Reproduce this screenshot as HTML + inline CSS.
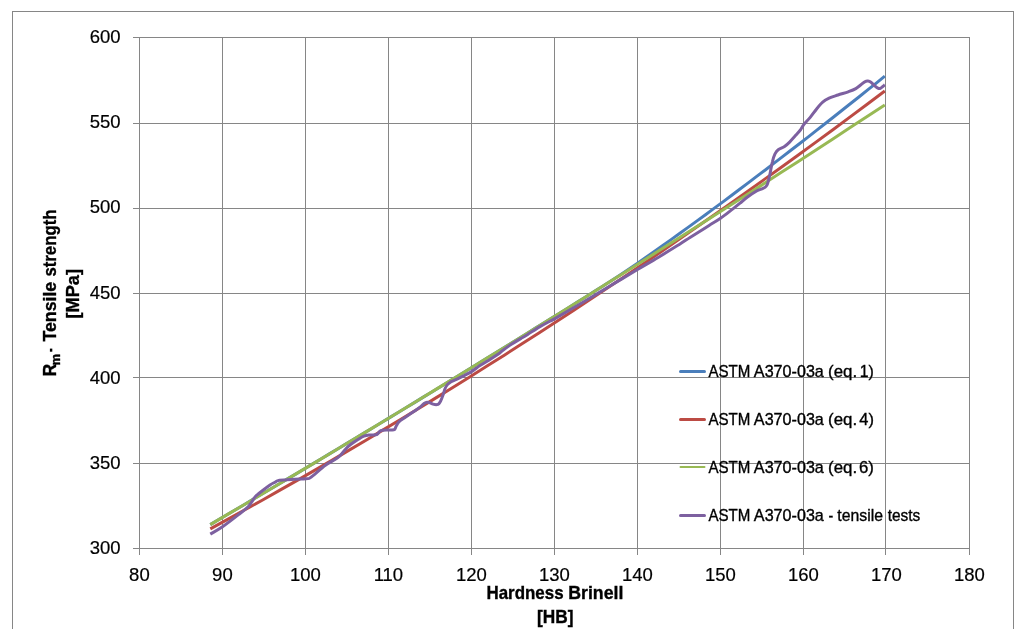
<!DOCTYPE html>
<html><head><meta charset="utf-8"><title>Chart</title>
<style>
html,body{margin:0;padding:0;background:#fff;}
body{width:1018px;height:629px;overflow:hidden;}
svg{display:block;will-change:transform;}
text{font-family:"Liberation Sans",sans-serif;fill:#000;}
.lg{stroke:#000;stroke-width:0.35px;}
.tk{stroke:#000;stroke-width:0.2px;}
.b{font-weight:bold;stroke:#000;stroke-width:0.35px;}
</style></head><body>
<svg width="1018" height="629" viewBox="0 0 1018 629">
<rect x="0" y="0" width="1018" height="629" fill="#fff"/>
<g fill="#868686" shape-rendering="crispEdges">
<rect x="12" y="11" width="1002" height="1"/>
<rect x="12" y="11" width="1" height="618"/>
<rect x="1013" y="11" width="1" height="618"/>
<rect x="139" y="37" width="1" height="518"/>
<rect x="222" y="37" width="1" height="518"/>
<rect x="305" y="37" width="1" height="518"/>
<rect x="388" y="37" width="1" height="518"/>
<rect x="471" y="37" width="1" height="518"/>
<rect x="554" y="37" width="1" height="518"/>
<rect x="637" y="37" width="1" height="518"/>
<rect x="720" y="37" width="1" height="518"/>
<rect x="803" y="37" width="1" height="518"/>
<rect x="885" y="37" width="1" height="518"/>
<rect x="969" y="37" width="1" height="518"/>
<rect x="133" y="37" width="837" height="1"/>
<rect x="133" y="123" width="837" height="1"/>
<rect x="133" y="208" width="837" height="1"/>
<rect x="133" y="293" width="837" height="1"/>
<rect x="133" y="377" width="837" height="1"/>
<rect x="133" y="463" width="837" height="1"/>
<rect x="133" y="548" width="837" height="1"/>
</g>
<g fill="none" stroke-width="3" stroke-linejoin="round" stroke-linecap="butt">
<path stroke="#4A7EBB" d="M210.3,524.6 L218.8,519.5 L227.4,514.5 L235.9,509.5 L244.5,504.5 L253.0,499.4 L261.5,494.3 L270.1,489.3 L278.6,484.2 L287.1,479.1 L295.7,474.1 L304.2,469.0 L312.8,463.9 L321.3,458.8 L329.8,453.6 L338.4,448.5 L346.9,443.4 L355.4,438.3 L364.0,433.1 L372.5,428.0 L381.1,422.8 L389.6,417.6 L398.1,412.5 L406.7,407.3 L415.2,402.1 L423.7,396.9 L432.3,391.7 L440.8,386.5 L449.4,381.2 L457.9,376.0 L466.4,370.8 L475.0,365.5 L483.5,360.3 L492.1,355.0 L500.6,349.8 L509.1,344.5 L517.7,339.2 L526.2,333.9 L534.7,328.6 L543.3,323.3 L551.8,318.0 L560.4,312.7 L568.9,307.4 L577.4,302.0 L586.0,296.7 L594.5,291.3 L603.0,286.0 L611.6,280.6 L620.1,275.0 L628.7,269.2 L637.2,263.4 L645.7,257.5 L654.3,251.5 L662.8,245.5 L671.4,239.4 L679.9,233.3 L688.4,227.1 L697.0,220.9 L705.5,214.7 L714.0,208.4 L722.6,202.1 L731.1,195.7 L739.7,189.3 L748.2,182.9 L756.7,176.4 L765.3,170.0 L773.8,163.4 L782.3,156.9 L790.9,150.3 L799.4,143.7 L808.0,137.1 L816.5,130.4 L825.0,123.7 L833.6,117.0 L842.1,110.3 L850.6,103.5 L859.2,96.7 L867.7,89.9 L876.3,83.1 L884.8,76.2"/>
<path stroke="#BC4B44" d="M210.3,528.9 L227.6,519.4 L244.9,509.8 L262.2,500.2 L279.5,490.4 L296.8,480.6 L314.1,470.6 L331.4,460.6 L348.7,450.4 L366.0,440.2 L383.2,429.9 L400.5,419.5 L417.8,409.0 L435.1,398.4 L452.4,387.7 L469.7,377.0 L487.0,366.1 L504.3,355.2 L521.6,344.1 L538.9,333.0 L556.2,321.8 L573.5,310.4 L590.8,299.0 L608.1,287.5 L625.4,275.9 L642.7,264.2 L660.0,252.5 L677.3,240.6 L694.6,228.6 L711.9,216.6 L729.1,204.4 L746.4,192.2 L763.7,179.9 L781.0,167.5 L798.3,155.0 L815.6,142.4 L832.9,129.7 L850.2,116.9 L867.5,104.0 L884.8,91.0"/>
<path stroke="#98B954" d="M210.3,524.6 L227.6,514.4 L244.9,504.2 L262.2,494.0 L279.5,483.7 L296.8,473.4 L314.1,463.1 L331.4,452.7 L348.7,442.3 L366.0,431.9 L383.2,421.5 L400.5,411.0 L417.8,400.5 L435.1,389.9 L452.4,379.4 L469.7,368.8 L487.0,358.1 L504.3,347.5 L521.6,336.8 L538.9,326.0 L556.2,315.3 L573.5,304.5 L590.8,293.7 L608.1,282.8 L625.4,271.9 L642.7,261.0 L660.0,250.1 L677.3,239.1 L694.6,228.1 L711.9,217.1 L729.1,206.0 L746.4,194.9 L763.7,183.8 L781.0,172.6 L798.3,161.4 L815.6,150.2 L832.9,138.9 L850.2,127.6 L867.5,116.3 L884.8,105.0"/>
<path stroke="#7D60A0" d="M210.3,534.1 C212.3,532.9 217.6,530.2 222.5,526.8 C227.4,523.4 235.9,516.7 240.0,513.5 C244.1,510.3 245.5,509.2 247.2,507.7 C248.9,506.2 249.1,505.7 250.0,504.5 C250.9,503.3 251.7,501.9 252.6,500.6 C253.5,499.3 253.8,498.1 255.4,496.5 C257.0,494.9 259.6,492.9 262.0,491.0 C264.4,489.1 267.8,486.5 270.0,485.0 C272.2,483.5 273.7,482.9 275.0,482.2 C276.3,481.5 276.0,481.0 278.0,480.6 C280.0,480.2 282.6,480.0 286.8,479.8 C291.0,479.5 299.6,479.1 303.3,478.9 C307.0,478.7 307.6,478.9 309.2,478.4 C310.8,477.8 310.3,477.8 313.0,475.6 C315.7,473.4 321.7,468.0 325.4,465.3 C329.1,462.6 332.6,461.1 335.0,459.5 C337.4,457.9 338.1,457.7 340.0,455.8 C341.9,453.9 344.6,450.1 346.6,448.0 C348.6,445.9 350.1,444.9 352.0,443.5 C353.9,442.1 356.0,440.7 358.0,439.5 C360.0,438.3 362.1,436.9 363.9,436.2 C365.7,435.4 367.0,435.2 369.0,435.0 C371.0,434.8 374.2,435.1 375.7,434.8 C377.2,434.6 377.3,434.1 378.0,433.5 C378.7,432.9 379.0,431.7 379.8,431.2 C380.6,430.7 381.9,430.5 383.0,430.3 C384.1,430.1 384.5,430.1 386.3,430.1 C388.1,430.0 392.4,430.1 393.9,429.8 C395.4,429.5 394.8,429.2 395.2,428.5 C395.6,427.8 395.7,426.8 396.5,425.5 C397.3,424.2 397.4,422.9 400.0,420.8 C402.6,418.7 408.6,415.1 411.9,412.8 C415.2,410.5 418.0,408.8 420.0,407.2 C422.0,405.6 422.8,404.3 424.0,403.5 C425.2,402.7 426.1,402.3 427.1,402.2 C428.1,402.1 429.0,402.5 430.0,402.8 C431.0,403.1 431.9,403.8 433.0,404.1 C434.1,404.4 435.9,404.7 436.9,404.6 C437.9,404.5 438.4,404.2 439.0,403.6 C439.6,403.0 440.0,402.5 440.6,401.2 C441.2,399.9 442.1,397.7 442.8,395.6 C443.6,393.5 444.3,390.3 445.1,388.5 C445.9,386.7 446.6,385.6 447.4,384.6 C448.2,383.6 449.1,383.0 450.0,382.4 C450.9,381.8 451.3,381.7 453.0,380.9 C454.7,380.1 456.9,379.2 460.0,377.6 C463.1,376.1 468.2,373.6 471.5,371.6 C474.8,369.6 476.8,367.7 480.0,365.6 C483.2,363.5 487.4,361.0 490.7,358.9 C494.0,356.8 497.8,354.3 499.9,352.9 C501.9,351.4 501.0,351.7 503.0,350.2 C505.0,348.7 508.9,346.0 511.8,344.1 C514.8,342.2 518.1,340.2 520.7,338.6 C523.4,337.0 524.5,336.4 527.7,334.4 C530.9,332.4 536.2,328.8 540.0,326.6 C543.8,324.4 547.8,322.3 550.2,321.0 C552.6,319.7 548.8,322.2 554.5,318.9 C560.2,315.6 575.5,306.7 584.7,301.2 C594.0,295.7 601.2,291.3 610.0,286.0 C618.8,280.7 629.5,274.2 637.5,269.5 C645.5,264.8 651.1,261.7 658.1,257.5 C665.1,253.3 674.0,247.7 679.3,244.4 C684.6,241.1 686.5,239.7 690.0,237.5 C693.5,235.3 696.8,233.2 700.0,231.2 C703.2,229.2 705.7,227.6 709.1,225.4 C712.5,223.2 716.5,221.1 720.5,218.3 C724.5,215.6 729.6,211.4 732.9,208.9 C736.1,206.4 737.6,205.2 740.0,203.2 C742.4,201.2 744.7,199.0 747.5,197.0 C750.3,195.0 754.2,192.4 756.6,191.0 C759.0,189.6 760.6,189.4 762.0,188.8 C763.4,188.2 764.1,188.1 765.0,187.4 C765.9,186.7 766.6,185.9 767.2,184.6 C767.8,183.3 768.3,181.2 768.8,179.5 C769.2,177.8 769.3,177.4 769.9,174.5 C770.5,171.6 771.5,165.2 772.4,161.8 C773.2,158.4 774.0,155.8 775.0,153.8 C776.0,151.8 776.6,150.9 778.2,149.7 C779.8,148.5 782.6,147.8 784.5,146.5 C786.4,145.2 787.7,144.0 789.6,142.1 C791.5,140.2 794.2,137.1 796.0,135.1 C797.8,133.1 799.1,131.7 800.4,130.0 C801.7,128.3 802.0,126.9 803.6,124.8 C805.2,122.7 807.9,120.2 810.0,117.6 C812.1,115.0 814.3,111.8 816.4,109.2 C818.5,106.6 820.6,104.0 822.7,102.2 C824.8,100.4 826.6,99.4 829.1,98.2 C831.6,97.0 834.8,96.1 838.0,95.0 C841.2,93.9 845.2,92.9 848.2,91.8 C851.2,90.7 853.7,89.8 855.8,88.6 C857.9,87.4 859.4,85.9 860.9,84.8 C862.4,83.7 863.5,82.4 864.7,81.8 C865.9,81.2 866.9,81.0 867.9,81.1 C868.9,81.2 870.0,81.6 871.0,82.3 C872.0,83.0 873.1,84.4 874.2,85.3 C875.3,86.2 876.4,87.3 877.4,87.8 C878.4,88.3 879.0,88.8 880.0,88.5 C881.0,88.2 882.3,86.9 883.1,86.3 C883.9,85.7 884.5,85.0 884.8,84.8"/>
</g>
<g fill="none" stroke-linecap="round">
<path stroke="#4A7EBB" stroke-width="3" d="M680.5,371.5 L704.5,371.5"/>
<path stroke="#BC4B44" stroke-width="3" d="M680.5,419.5 L704.5,419.5"/>
<path stroke="#98B954" stroke-width="2" d="M680.5,467.0 L704.5,467.0"/>
<path stroke="#7D60A0" stroke-width="3" d="M680.5,515.5 L704.5,515.5"/>
</g>
<text class="lg" transform="translate(708.47,377.4) scale(0.9101,1)" font-size="16.6">ASTM</text>
<text class="lg" transform="translate(753.87,377.4) scale(0.9727,1)" font-size="16.6">A370-03a</text>
<text class="lg" transform="translate(828.05,377.4) scale(1.0168,1)" font-size="16.6">(eq.</text>
<text class="lg" transform="translate(859.80,377.4) scale(0.9546,1)" font-size="16.6">1)</text>
<text class="lg" transform="translate(708.47,425.1) scale(0.9101,1)" font-size="16.6">ASTM</text>
<text class="lg" transform="translate(753.87,425.1) scale(0.9727,1)" font-size="16.6">A370-03a</text>
<text class="lg" transform="translate(828.05,425.1) scale(1.0168,1)" font-size="16.6">(eq.</text>
<text class="lg" transform="translate(859.32,425.1) scale(0.9890,1)" font-size="16.6">4)</text>
<text class="lg" transform="translate(708.47,472.6) scale(0.9101,1)" font-size="16.6">ASTM</text>
<text class="lg" transform="translate(753.87,472.6) scale(0.9727,1)" font-size="16.6">A370-03a</text>
<text class="lg" transform="translate(828.05,472.6) scale(1.0168,1)" font-size="16.6">(eq.</text>
<text class="lg" transform="translate(859.05,472.6) scale(1.0092,1)" font-size="16.6">6)</text>
<text class="lg" transform="translate(708.47,520.9) scale(0.9101,1)" font-size="16.6">ASTM</text>
<text class="lg" transform="translate(753.87,520.9) scale(0.9727,1)" font-size="16.6">A370-03a</text>
<text class="lg" transform="translate(828.47,520.9) scale(0.8606,1)" font-size="16.6">-</text>
<text class="lg" transform="translate(837.26,520.9) scale(0.9533,1)" font-size="16.6">tensile</text>
<text class="lg" transform="translate(887.67,520.9) scale(0.9295,1)" font-size="16.6">tests</text>
<text x="120.6" y="43.15" class="tk" font-size="18.5" text-anchor="end">600</text>
<text x="120.6" y="128.32" class="tk" font-size="18.5" text-anchor="end">550</text>
<text x="120.6" y="213.49" class="tk" font-size="18.5" text-anchor="end">500</text>
<text x="120.6" y="298.66" class="tk" font-size="18.5" text-anchor="end">450</text>
<text x="120.6" y="383.83" class="tk" font-size="18.5" text-anchor="end">400</text>
<text x="120.6" y="469.00" class="tk" font-size="18.5" text-anchor="end">350</text>
<text x="120.6" y="554.17" class="tk" font-size="18.5" text-anchor="end">300</text>
<text x="139.4" y="581" class="tk" font-size="18.5" text-anchor="middle">80</text>
<text x="222.4" y="581" class="tk" font-size="18.5" text-anchor="middle">90</text>
<text x="305.4" y="581" class="tk" font-size="18.5" text-anchor="middle">100</text>
<text x="388.4" y="581" class="tk" font-size="18.5" text-anchor="middle">110</text>
<text x="471.4" y="581" class="tk" font-size="18.5" text-anchor="middle">120</text>
<text x="554.4" y="581" class="tk" font-size="18.5" text-anchor="middle">130</text>
<text x="637.4" y="581" class="tk" font-size="18.5" text-anchor="middle">140</text>
<text x="720.4" y="581" class="tk" font-size="18.5" text-anchor="middle">150</text>
<text x="803.4" y="581" class="tk" font-size="18.5" text-anchor="middle">160</text>
<text x="886.4" y="581" class="tk" font-size="18.5" text-anchor="middle">170</text>
<text x="969.4" y="581" class="tk" font-size="18.5" text-anchor="middle">180</text>
<text class="b" transform="translate(486.47,599) scale(0.9300,1)" font-size="18.2">Hardness</text>
<text class="b" transform="translate(568.21,599) scale(0.9736,1)" font-size="18.2">Brinell</text>
<text class="b" transform="translate(537.03,623.3) scale(0.9488,1)" font-size="18.2">[HB]</text>
<text class="b" transform="translate(56,376.49) rotate(-90) scale(0.9778,1)" font-size="18.2">R</text>
<text class="b" transform="translate(59.8,365.46) rotate(-90) scale(1.0663,1)" font-size="12.2">m</text>
<rect x="49.9" y="348.6" width="2.4" height="3.1" fill="#000"/>
<text class="b" transform="translate(56,341.49) rotate(-90) scale(0.9730,1)" font-size="18.2">Tensile</text>
<text class="b" transform="translate(56,276.59) rotate(-90) scale(0.9221,1)" font-size="18.2">strength</text>
<text class="b" transform="translate(79.4,318.42) rotate(-90) scale(0.9979,1)" font-size="18.2">[MPa]</text>
</svg></body></html>
